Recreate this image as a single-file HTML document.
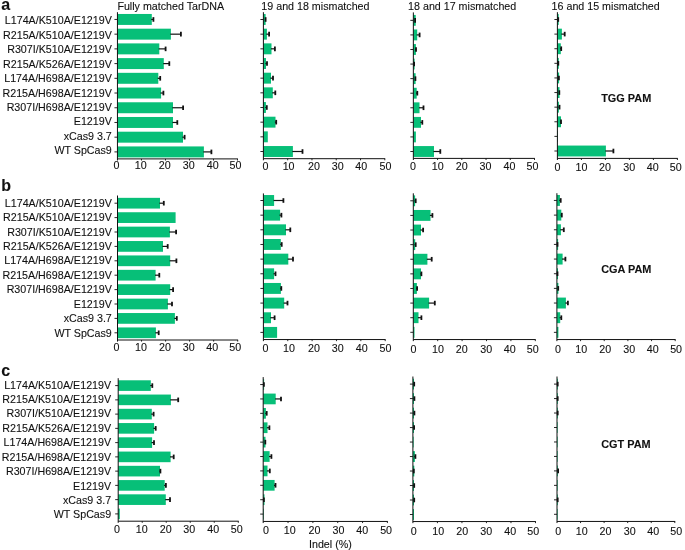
<!DOCTYPE html>
<html><head><meta charset="utf-8"><style>
html,body{margin:0;padding:0;background:#fff;}
svg{display:block;}
text{font-family:"Liberation Sans",Arial,sans-serif;font-size:10.7px;fill:#111;stroke:#111;stroke-width:0.1px;}
</style></head><body>
<svg width="685" height="550" viewBox="0 0 685 550">
<rect x="117.45" y="13.97" width="34.35" height="10.96" fill="#07bf78"/>
<rect x="117.45" y="28.68" width="53.45" height="10.96" fill="#07bf78"/>
<rect x="117.45" y="43.4" width="41.85" height="10.96" fill="#07bf78"/>
<rect x="117.45" y="58.12" width="46.35" height="10.96" fill="#07bf78"/>
<rect x="117.45" y="72.83" width="40.85" height="10.96" fill="#07bf78"/>
<rect x="117.45" y="87.55" width="43.65" height="10.96" fill="#07bf78"/>
<rect x="117.45" y="102.27" width="55.55" height="10.96" fill="#07bf78"/>
<rect x="117.45" y="116.98" width="55.55" height="10.96" fill="#07bf78"/>
<rect x="117.45" y="131.7" width="65.55" height="10.96" fill="#07bf78"/>
<rect x="117.45" y="146.42" width="86.45" height="10.96" fill="#07bf78"/>
<path d="M151.2 19.45H153.6" stroke="#111" stroke-width="1.2"/>
<path d="M153.4 17.15V21.75" stroke="#111" stroke-width="1.8"/>
<path d="M170.3 34.17H181.1" stroke="#111" stroke-width="1.2"/>
<path d="M180.9 31.87V36.47" stroke="#111" stroke-width="1.8"/>
<path d="M158.7 48.88H165.8" stroke="#111" stroke-width="1.2"/>
<path d="M165.6 46.58V51.18" stroke="#111" stroke-width="1.8"/>
<path d="M163.2 63.6H169.5" stroke="#111" stroke-width="1.2"/>
<path d="M169.3 61.3V65.9" stroke="#111" stroke-width="1.8"/>
<path d="M157.7 78.32H160.4" stroke="#111" stroke-width="1.2"/>
<path d="M160.2 76.02V80.62" stroke="#111" stroke-width="1.8"/>
<path d="M160.5 93.03H163.6" stroke="#111" stroke-width="1.2"/>
<path d="M163.4 90.73V95.33" stroke="#111" stroke-width="1.8"/>
<path d="M172.4 107.75H183.3" stroke="#111" stroke-width="1.2"/>
<path d="M183.1 105.45V110.05" stroke="#111" stroke-width="1.8"/>
<path d="M172.4 122.47H177.5" stroke="#111" stroke-width="1.2"/>
<path d="M177.3 120.17V124.77" stroke="#111" stroke-width="1.8"/>
<path d="M182.4 137.18H184.8" stroke="#111" stroke-width="1.2"/>
<path d="M184.6 134.88V139.48" stroke="#111" stroke-width="1.8"/>
<path d="M203.3 151.9H211.6" stroke="#111" stroke-width="1.2"/>
<path d="M211.4 149.6V154.2" stroke="#111" stroke-width="1.8"/>
<path d="M117.45 12.2V160.5M117.45 158.9H237.9" stroke="#111" stroke-width="1" fill="none"/>
<path d="M114.45 19.45H117.45M114.45 34.17H117.45M114.45 48.88H117.45M114.45 63.6H117.45M114.45 78.32H117.45M114.45 93.03H117.45M114.45 107.75H117.45M114.45 122.47H117.45M114.45 137.18H117.45M114.45 151.9H117.45" stroke="#111" stroke-width="0.9"/>
<path d="M141.46 158.9V160.5M165.47 158.9V160.5M189.48 158.9V160.5M213.49 158.9V160.5M237.5 158.9V160.5" stroke="#111" stroke-width="0.9"/>
<text x="116.6" y="169.2" text-anchor="middle">0</text>
<text x="140.7" y="169.2" text-anchor="middle">10</text>
<text x="164.8" y="169.2" text-anchor="middle">20</text>
<text x="188.7" y="169.2" text-anchor="middle">30</text>
<text x="212.8" y="169.2" text-anchor="middle">40</text>
<text x="235.4" y="169.2" text-anchor="middle">50</text>
<text x="111.8" y="24.4" text-anchor="end">L174A/K510A/E1219V</text>
<text x="111.8" y="38.84" text-anchor="end">R215A/K510A/E1219V</text>
<text x="111.8" y="53.28" text-anchor="end">R307I/K510A/E1219V</text>
<text x="111.8" y="67.72" text-anchor="end">R215A/K526A/E1219V</text>
<text x="111.8" y="82.16" text-anchor="end">L174A/H698A/E1219V</text>
<text x="111.8" y="96.6" text-anchor="end">R215A/H698A/E1219V</text>
<text x="111.8" y="111.04" text-anchor="end">R307I/H698A/E1219V</text>
<text x="111.8" y="125.48" text-anchor="end">E1219V</text>
<text x="111.8" y="139.92" text-anchor="end">xCas9 3.7</text>
<text x="111.8" y="154.36" text-anchor="end">WT SpCas9</text>
<rect x="263.4" y="14.04" width="2.2" height="10.93" fill="#07bf78"/>
<rect x="263.4" y="28.7" width="3.5" height="10.93" fill="#07bf78"/>
<rect x="263.4" y="43.37" width="8.1" height="10.93" fill="#07bf78"/>
<rect x="263.4" y="58.04" width="2.6" height="10.93" fill="#07bf78"/>
<rect x="263.4" y="72.7" width="7.6" height="10.93" fill="#07bf78"/>
<rect x="263.4" y="87.37" width="9.4" height="10.93" fill="#07bf78"/>
<rect x="263.4" y="102.04" width="2.5" height="10.93" fill="#07bf78"/>
<rect x="263.4" y="116.7" width="12.1" height="10.93" fill="#07bf78"/>
<rect x="263.4" y="131.37" width="4.4" height="10.93" fill="#07bf78"/>
<rect x="263.4" y="146.04" width="29.5" height="10.93" fill="#07bf78"/>
<path d="M265 19.5H265.8" stroke="#111" stroke-width="1.2"/>
<path d="M265.6 17.2V21.8" stroke="#111" stroke-width="1.8"/>
<path d="M266.3 34.17H269.3" stroke="#111" stroke-width="1.2"/>
<path d="M269.1 31.87V36.47" stroke="#111" stroke-width="1.8"/>
<path d="M270.9 48.83H275.1" stroke="#111" stroke-width="1.2"/>
<path d="M274.9 46.53V51.13" stroke="#111" stroke-width="1.8"/>
<path d="M265.4 63.5H267.2" stroke="#111" stroke-width="1.2"/>
<path d="M267 61.2V65.8" stroke="#111" stroke-width="1.8"/>
<path d="M270.4 78.17H273.2" stroke="#111" stroke-width="1.2"/>
<path d="M273 75.87V80.47" stroke="#111" stroke-width="1.8"/>
<path d="M272.2 92.83H275.5" stroke="#111" stroke-width="1.2"/>
<path d="M275.3 90.53V95.13" stroke="#111" stroke-width="1.8"/>
<path d="M265.3 107.5H267" stroke="#111" stroke-width="1.2"/>
<path d="M266.8 105.2V109.8" stroke="#111" stroke-width="1.8"/>
<path d="M274.9 122.17H276.4" stroke="#111" stroke-width="1.2"/>
<path d="M276.2 119.87V124.47" stroke="#111" stroke-width="1.8"/>
<path d="M292.3 151.5H302.7" stroke="#111" stroke-width="1.2"/>
<path d="M302.5 149.2V153.8" stroke="#111" stroke-width="1.8"/>
<path d="M263.4 12.2V160.3M263.4 158.7H385.2" stroke="#111" stroke-width="1" fill="none"/>
<path d="M260.4 19.5H263.4M260.4 34.17H263.4M260.4 48.83H263.4M260.4 63.5H263.4M260.4 78.17H263.4M260.4 92.83H263.4M260.4 107.5H263.4M260.4 122.17H263.4M260.4 136.83H263.4M260.4 151.5H263.4" stroke="#111" stroke-width="0.9"/>
<path d="M287.68 158.7V160.3M311.96 158.7V160.3M336.24 158.7V160.3M360.52 158.7V160.3M384.8 158.7V160.3" stroke="#111" stroke-width="0.9"/>
<text x="265.5" y="170.3" text-anchor="middle">0</text>
<text x="288.6" y="170.3" text-anchor="middle">10</text>
<text x="313.9" y="170.3" text-anchor="middle">20</text>
<text x="337.8" y="170.3" text-anchor="middle">30</text>
<text x="361.2" y="170.3" text-anchor="middle">40</text>
<text x="385.5" y="170.3" text-anchor="middle">50</text>
<rect x="413.35" y="14.92" width="2.35" height="10.86" fill="#07bf78"/>
<rect x="413.35" y="29.49" width="3.85" height="10.86" fill="#07bf78"/>
<rect x="413.35" y="44.07" width="2.55" height="10.86" fill="#07bf78"/>
<rect x="413.35" y="58.64" width="1.25" height="10.86" fill="#07bf78"/>
<rect x="413.35" y="73.21" width="2.25" height="10.86" fill="#07bf78"/>
<rect x="413.35" y="87.78" width="3.35" height="10.86" fill="#07bf78"/>
<rect x="413.35" y="102.36" width="6.15" height="10.86" fill="#07bf78"/>
<rect x="413.35" y="116.93" width="7.65" height="10.86" fill="#07bf78"/>
<rect x="413.35" y="131.5" width="2.55" height="10.86" fill="#07bf78"/>
<rect x="413.35" y="146.07" width="20.65" height="10.86" fill="#07bf78"/>
<path d="M415.1 18.05V22.65" stroke="#111" stroke-width="1.8"/>
<path d="M416.6 34.92H419.8" stroke="#111" stroke-width="1.2"/>
<path d="M419.6 32.62V37.22" stroke="#111" stroke-width="1.8"/>
<path d="M415.3 49.49H416.2" stroke="#111" stroke-width="1.2"/>
<path d="M416 47.19V51.79" stroke="#111" stroke-width="1.8"/>
<path d="M414.1 61.77V66.37" stroke="#111" stroke-width="1.8"/>
<path d="M415.4 76.34V80.94" stroke="#111" stroke-width="1.8"/>
<path d="M416.1 93.21H417.5" stroke="#111" stroke-width="1.2"/>
<path d="M417.3 90.91V95.51" stroke="#111" stroke-width="1.8"/>
<path d="M418.9 107.78H423.7" stroke="#111" stroke-width="1.2"/>
<path d="M423.5 105.48V110.08" stroke="#111" stroke-width="1.8"/>
<path d="M420.4 122.36H422.5" stroke="#111" stroke-width="1.2"/>
<path d="M422.3 120.06V124.66" stroke="#111" stroke-width="1.8"/>
<path d="M433.4 151.5H440.5" stroke="#111" stroke-width="1.2"/>
<path d="M440.3 149.2V153.8" stroke="#111" stroke-width="1.8"/>
<path d="M413.35 12.4V160M413.35 158.4H534.9" stroke="#111" stroke-width="1" fill="none"/>
<path d="M410.35 20.35H413.35M410.35 34.92H413.35M410.35 49.49H413.35M410.35 64.07H413.35M410.35 78.64H413.35M410.35 93.21H413.35M410.35 107.78H413.35M410.35 122.36H413.35M410.35 136.93H413.35M410.35 151.5H413.35" stroke="#111" stroke-width="0.9"/>
<path d="M437.58 158.4V160M461.81 158.4V160M486.04 158.4V160M510.27 158.4V160M534.5 158.4V160" stroke="#111" stroke-width="0.9"/>
<text x="412.9" y="170" text-anchor="middle">0</text>
<text x="437.7" y="170" text-anchor="middle">10</text>
<text x="461.7" y="170" text-anchor="middle">20</text>
<text x="485.5" y="170" text-anchor="middle">30</text>
<text x="509.5" y="170" text-anchor="middle">40</text>
<text x="532.5" y="170" text-anchor="middle">50</text>
<rect x="557.4" y="14.06" width="1.3" height="10.89" fill="#07bf78"/>
<rect x="557.4" y="28.67" width="4.5" height="10.89" fill="#07bf78"/>
<rect x="557.4" y="43.28" width="3.4" height="10.89" fill="#07bf78"/>
<rect x="557.4" y="57.89" width="1.4" height="10.89" fill="#07bf78"/>
<rect x="557.4" y="72.5" width="1.7" height="10.89" fill="#07bf78"/>
<rect x="557.4" y="87.11" width="2.1" height="10.89" fill="#07bf78"/>
<rect x="557.4" y="101.72" width="1.5" height="10.89" fill="#07bf78"/>
<rect x="557.4" y="116.34" width="3.6" height="10.89" fill="#07bf78"/>
<rect x="557.4" y="130.95" width="0.6" height="10.89" fill="#07bf78"/>
<rect x="557.4" y="145.56" width="48.5" height="10.89" fill="#07bf78"/>
<path d="M558.2 17.2V21.8" stroke="#111" stroke-width="1.8"/>
<path d="M561.3 34.11H564.9" stroke="#111" stroke-width="1.2"/>
<path d="M564.7 31.81V36.41" stroke="#111" stroke-width="1.8"/>
<path d="M560.2 48.72H561.4" stroke="#111" stroke-width="1.2"/>
<path d="M561.2 46.42V51.02" stroke="#111" stroke-width="1.8"/>
<path d="M558.3 61.03V65.63" stroke="#111" stroke-width="1.8"/>
<path d="M558.9 75.64V80.24" stroke="#111" stroke-width="1.8"/>
<path d="M559.3 90.26V94.86" stroke="#111" stroke-width="1.8"/>
<path d="M558.3 107.17H559.7" stroke="#111" stroke-width="1.2"/>
<path d="M559.5 104.87V109.47" stroke="#111" stroke-width="1.8"/>
<path d="M560.4 121.78H561.2" stroke="#111" stroke-width="1.2"/>
<path d="M561 119.48V124.08" stroke="#111" stroke-width="1.8"/>
<path d="M605.3 151H613.6" stroke="#111" stroke-width="1.2"/>
<path d="M613.4 148.7V153.3" stroke="#111" stroke-width="1.8"/>
<path d="M557.4 12.2V160M557.4 158.4H677.8" stroke="#111" stroke-width="1" fill="none"/>
<path d="M554.4 19.5H557.4M554.4 34.11H557.4M554.4 48.72H557.4M554.4 63.33H557.4M554.4 77.94H557.4M554.4 92.56H557.4M554.4 107.17H557.4M554.4 121.78H557.4M554.4 136.39H557.4M554.4 151H557.4" stroke="#111" stroke-width="0.9"/>
<path d="M581.4 158.4V160M605.4 158.4V160M629.4 158.4V160M653.4 158.4V160M677.4 158.4V160" stroke="#111" stroke-width="0.9"/>
<text x="557.6" y="171" text-anchor="middle">0</text>
<text x="581.4" y="171" text-anchor="middle">10</text>
<text x="605" y="171" text-anchor="middle">20</text>
<text x="629.3" y="171" text-anchor="middle">30</text>
<text x="652.8" y="171" text-anchor="middle">40</text>
<text x="675.8" y="171" text-anchor="middle">50</text>
<text x="601.2" y="101.9" font-weight="bold" style="font-size:10.9px">TGG PAM</text>
<text x="1.2" y="9.9" font-weight="bold" style="font-size:16px">a</text>
<rect x="117.5" y="197.84" width="42.5" height="10.73" fill="#07bf78"/>
<rect x="117.5" y="212.24" width="58.1" height="10.73" fill="#07bf78"/>
<rect x="117.5" y="226.64" width="52.4" height="10.73" fill="#07bf78"/>
<rect x="117.5" y="241.04" width="45.5" height="10.73" fill="#07bf78"/>
<rect x="117.5" y="255.44" width="52.7" height="10.73" fill="#07bf78"/>
<rect x="117.5" y="269.84" width="38.1" height="10.73" fill="#07bf78"/>
<rect x="117.5" y="284.24" width="52.7" height="10.73" fill="#07bf78"/>
<rect x="117.5" y="298.64" width="50.4" height="10.73" fill="#07bf78"/>
<rect x="117.5" y="313.04" width="57.4" height="10.73" fill="#07bf78"/>
<rect x="117.5" y="327.44" width="38.4" height="10.73" fill="#07bf78"/>
<path d="M159.4 203.2H164" stroke="#111" stroke-width="1.2"/>
<path d="M163.8 200.9V205.5" stroke="#111" stroke-width="1.8"/>
<path d="M169.3 232H176.3" stroke="#111" stroke-width="1.2"/>
<path d="M176.1 229.7V234.3" stroke="#111" stroke-width="1.8"/>
<path d="M162.4 246.4H167.9" stroke="#111" stroke-width="1.2"/>
<path d="M167.7 244.1V248.7" stroke="#111" stroke-width="1.8"/>
<path d="M169.6 260.8H176.6" stroke="#111" stroke-width="1.2"/>
<path d="M176.4 258.5V263.1" stroke="#111" stroke-width="1.8"/>
<path d="M155 275.2H159.5" stroke="#111" stroke-width="1.2"/>
<path d="M159.3 272.9V277.5" stroke="#111" stroke-width="1.8"/>
<path d="M169.6 289.6H173.3" stroke="#111" stroke-width="1.2"/>
<path d="M173.1 287.3V291.9" stroke="#111" stroke-width="1.8"/>
<path d="M167.3 304H172.2" stroke="#111" stroke-width="1.2"/>
<path d="M172 301.7V306.3" stroke="#111" stroke-width="1.8"/>
<path d="M174.3 318.4H177" stroke="#111" stroke-width="1.2"/>
<path d="M176.8 316.1V320.7" stroke="#111" stroke-width="1.8"/>
<path d="M155.3 332.8H158.9" stroke="#111" stroke-width="1.2"/>
<path d="M158.7 330.5V335.1" stroke="#111" stroke-width="1.8"/>
<path d="M117.5 195.5V341.6M117.5 340H238.1" stroke="#111" stroke-width="1" fill="none"/>
<path d="M114.5 203.2H117.5M114.5 217.6H117.5M114.5 232H117.5M114.5 246.4H117.5M114.5 260.8H117.5M114.5 275.2H117.5M114.5 289.6H117.5M114.5 304H117.5M114.5 318.4H117.5M114.5 332.8H117.5" stroke="#111" stroke-width="0.9"/>
<path d="M141.54 340V341.6M165.58 340V341.6M189.62 340V341.6M213.66 340V341.6M237.7 340V341.6" stroke="#111" stroke-width="0.9"/>
<text x="116.4" y="351.1" text-anchor="middle">0</text>
<text x="141" y="351.1" text-anchor="middle">10</text>
<text x="165" y="351.1" text-anchor="middle">20</text>
<text x="188.7" y="351.1" text-anchor="middle">30</text>
<text x="212.2" y="351.1" text-anchor="middle">40</text>
<text x="235.2" y="351.1" text-anchor="middle">50</text>
<text x="111.8" y="206.7" text-anchor="end">L174A/K510A/E1219V</text>
<text x="111.8" y="221.14" text-anchor="end">R215A/K510A/E1219V</text>
<text x="111.8" y="235.58" text-anchor="end">R307I/K510A/E1219V</text>
<text x="111.8" y="250.02" text-anchor="end">R215A/K526A/E1219V</text>
<text x="111.8" y="264.46" text-anchor="end">L174A/H698A/E1219V</text>
<text x="111.8" y="278.9" text-anchor="end">R215A/H698A/E1219V</text>
<text x="111.8" y="293.34" text-anchor="end">R307I/H698A/E1219V</text>
<text x="111.8" y="307.78" text-anchor="end">E1219V</text>
<text x="111.8" y="322.22" text-anchor="end">xCas9 3.7</text>
<text x="111.8" y="336.66" text-anchor="end">WT SpCas9</text>
<rect x="263.4" y="195.04" width="10.7" height="10.92" fill="#07bf78"/>
<rect x="263.4" y="209.7" width="16.7" height="10.92" fill="#07bf78"/>
<rect x="263.4" y="224.35" width="22.6" height="10.92" fill="#07bf78"/>
<rect x="263.4" y="239.01" width="17.4" height="10.92" fill="#07bf78"/>
<rect x="263.4" y="253.66" width="24.9" height="10.92" fill="#07bf78"/>
<rect x="263.4" y="268.32" width="10.7" height="10.92" fill="#07bf78"/>
<rect x="263.4" y="282.97" width="17.5" height="10.92" fill="#07bf78"/>
<rect x="263.4" y="297.63" width="20.8" height="10.92" fill="#07bf78"/>
<rect x="263.4" y="312.29" width="7.6" height="10.92" fill="#07bf78"/>
<rect x="263.4" y="326.94" width="13.7" height="10.92" fill="#07bf78"/>
<path d="M273.5 200.5H283.6" stroke="#111" stroke-width="1.2"/>
<path d="M283.4 198.2V202.8" stroke="#111" stroke-width="1.8"/>
<path d="M279.5 215.16H281.6" stroke="#111" stroke-width="1.2"/>
<path d="M281.4 212.86V217.46" stroke="#111" stroke-width="1.8"/>
<path d="M285.4 229.81H290.5" stroke="#111" stroke-width="1.2"/>
<path d="M290.3 227.51V232.11" stroke="#111" stroke-width="1.8"/>
<path d="M280.2 244.47H281.9" stroke="#111" stroke-width="1.2"/>
<path d="M281.7 242.17V246.77" stroke="#111" stroke-width="1.8"/>
<path d="M287.7 259.12H293.2" stroke="#111" stroke-width="1.2"/>
<path d="M293 256.82V261.42" stroke="#111" stroke-width="1.8"/>
<path d="M273.5 273.78H275.7" stroke="#111" stroke-width="1.2"/>
<path d="M275.5 271.48V276.08" stroke="#111" stroke-width="1.8"/>
<path d="M280.3 288.43H281.5" stroke="#111" stroke-width="1.2"/>
<path d="M281.3 286.13V290.73" stroke="#111" stroke-width="1.8"/>
<path d="M283.6 303.09H287.7" stroke="#111" stroke-width="1.2"/>
<path d="M287.5 300.79V305.39" stroke="#111" stroke-width="1.8"/>
<path d="M270.4 317.74H274.8" stroke="#111" stroke-width="1.2"/>
<path d="M274.6 315.44V320.04" stroke="#111" stroke-width="1.8"/>
<path d="M263.4 193.4V341.15M263.4 339.55H385.6" stroke="#111" stroke-width="1" fill="none"/>
<path d="M260.4 200.5H263.4M260.4 215.16H263.4M260.4 229.81H263.4M260.4 244.47H263.4M260.4 259.12H263.4M260.4 273.78H263.4M260.4 288.43H263.4M260.4 303.09H263.4M260.4 317.74H263.4M260.4 332.4H263.4" stroke="#111" stroke-width="0.9"/>
<path d="M287.76 339.55V341.15M312.12 339.55V341.15M336.48 339.55V341.15M360.84 339.55V341.15M385.2 339.55V341.15" stroke="#111" stroke-width="0.9"/>
<text x="265.5" y="352.3" text-anchor="middle">0</text>
<text x="289" y="352.3" text-anchor="middle">10</text>
<text x="314" y="352.3" text-anchor="middle">20</text>
<text x="337.8" y="352.3" text-anchor="middle">30</text>
<text x="361.8" y="352.3" text-anchor="middle">40</text>
<text x="385.5" y="352.3" text-anchor="middle">50</text>
<rect x="413.3" y="195.36" width="1.8" height="10.89" fill="#07bf78"/>
<rect x="413.3" y="209.97" width="17.2" height="10.89" fill="#07bf78"/>
<rect x="413.3" y="224.58" width="7.7" height="10.89" fill="#07bf78"/>
<rect x="413.3" y="239.19" width="1.9" height="10.89" fill="#07bf78"/>
<rect x="413.3" y="253.8" width="14.1" height="10.89" fill="#07bf78"/>
<rect x="413.3" y="268.41" width="7.7" height="10.89" fill="#07bf78"/>
<rect x="413.3" y="283.02" width="3.6" height="10.89" fill="#07bf78"/>
<rect x="413.3" y="297.64" width="15.8" height="10.89" fill="#07bf78"/>
<rect x="413.3" y="312.25" width="5.2" height="10.89" fill="#07bf78"/>
<rect x="413.3" y="326.86" width="1.2" height="10.89" fill="#07bf78"/>
<path d="M414.5 200.8H415.9" stroke="#111" stroke-width="1.2"/>
<path d="M415.7 198.5V203.1" stroke="#111" stroke-width="1.8"/>
<path d="M429.9 215.41H432.6" stroke="#111" stroke-width="1.2"/>
<path d="M432.4 213.11V217.71" stroke="#111" stroke-width="1.8"/>
<path d="M420.4 230.02H423.3" stroke="#111" stroke-width="1.2"/>
<path d="M423.1 227.72V232.32" stroke="#111" stroke-width="1.8"/>
<path d="M414.6 244.63H415.9" stroke="#111" stroke-width="1.2"/>
<path d="M415.7 242.33V246.93" stroke="#111" stroke-width="1.8"/>
<path d="M426.8 259.24H431.9" stroke="#111" stroke-width="1.2"/>
<path d="M431.7 256.94V261.54" stroke="#111" stroke-width="1.8"/>
<path d="M420.4 273.86H421.6" stroke="#111" stroke-width="1.2"/>
<path d="M421.4 271.56V276.16" stroke="#111" stroke-width="1.8"/>
<path d="M416.3 288.47H417.3" stroke="#111" stroke-width="1.2"/>
<path d="M417.1 286.17V290.77" stroke="#111" stroke-width="1.8"/>
<path d="M428.5 303.08H435" stroke="#111" stroke-width="1.2"/>
<path d="M434.8 300.78V305.38" stroke="#111" stroke-width="1.8"/>
<path d="M417.9 317.69H421.6" stroke="#111" stroke-width="1.2"/>
<path d="M421.4 315.39V319.99" stroke="#111" stroke-width="1.8"/>
<path d="M413.3 193.3V341.15M413.3 339.55H535.7" stroke="#111" stroke-width="1" fill="none"/>
<path d="M410.3 200.8H413.3M410.3 215.41H413.3M410.3 230.02H413.3M410.3 244.63H413.3M410.3 259.24H413.3M410.3 273.86H413.3M410.3 288.47H413.3M410.3 303.08H413.3M410.3 317.69H413.3M410.3 332.3H413.3" stroke="#111" stroke-width="0.9"/>
<path d="M437.7 339.55V341.15M462.1 339.55V341.15M486.5 339.55V341.15M510.9 339.55V341.15M535.3 339.55V341.15" stroke="#111" stroke-width="0.9"/>
<text x="413.5" y="352.9" text-anchor="middle">0</text>
<text x="438" y="352.9" text-anchor="middle">10</text>
<text x="461.7" y="352.9" text-anchor="middle">20</text>
<text x="486.2" y="352.9" text-anchor="middle">30</text>
<text x="509.7" y="352.9" text-anchor="middle">40</text>
<text x="532.7" y="352.9" text-anchor="middle">50</text>
<rect x="556.9" y="194.99" width="3" height="10.92" fill="#07bf78"/>
<rect x="556.9" y="209.65" width="4.4" height="10.92" fill="#07bf78"/>
<rect x="556.9" y="224.3" width="4" height="10.92" fill="#07bf78"/>
<rect x="556.9" y="238.96" width="1.2" height="10.92" fill="#07bf78"/>
<rect x="556.9" y="253.61" width="5.7" height="10.92" fill="#07bf78"/>
<rect x="556.9" y="268.27" width="1.1" height="10.92" fill="#07bf78"/>
<rect x="556.9" y="282.92" width="1.5" height="10.92" fill="#07bf78"/>
<rect x="556.9" y="297.58" width="9" height="10.92" fill="#07bf78"/>
<rect x="556.9" y="312.24" width="3.3" height="10.92" fill="#07bf78"/>
<rect x="556.9" y="326.89" width="1.5" height="10.92" fill="#07bf78"/>
<path d="M559.3 200.45H560.9" stroke="#111" stroke-width="1.2"/>
<path d="M560.7 198.15V202.75" stroke="#111" stroke-width="1.8"/>
<path d="M560.7 215.11H562" stroke="#111" stroke-width="1.2"/>
<path d="M561.8 212.81V217.41" stroke="#111" stroke-width="1.8"/>
<path d="M560.3 229.76H564" stroke="#111" stroke-width="1.2"/>
<path d="M563.8 227.46V232.06" stroke="#111" stroke-width="1.8"/>
<path d="M557.5 242.12V246.72" stroke="#111" stroke-width="1.8"/>
<path d="M562 259.07H565.6" stroke="#111" stroke-width="1.2"/>
<path d="M565.4 256.77V261.37" stroke="#111" stroke-width="1.8"/>
<path d="M557.5 271.43V276.03" stroke="#111" stroke-width="1.8"/>
<path d="M558.2 286.08V290.68" stroke="#111" stroke-width="1.8"/>
<path d="M565.3 303.04H568.1" stroke="#111" stroke-width="1.2"/>
<path d="M567.9 300.74V305.34" stroke="#111" stroke-width="1.8"/>
<path d="M559.6 317.69H561.5" stroke="#111" stroke-width="1.2"/>
<path d="M561.3 315.39V319.99" stroke="#111" stroke-width="1.8"/>
<path d="M556.9 193.2V341.15M556.9 339.55H675.6" stroke="#111" stroke-width="1" fill="none"/>
<path d="M553.9 200.45H556.9M553.9 215.11H556.9M553.9 229.76H556.9M553.9 244.42H556.9M553.9 259.07H556.9M553.9 273.73H556.9M553.9 288.38H556.9M553.9 303.04H556.9M553.9 317.69H556.9M553.9 332.35H556.9" stroke="#111" stroke-width="0.9"/>
<path d="M580.56 339.55V341.15M604.22 339.55V341.15M627.88 339.55V341.15M651.54 339.55V341.15M675.2 339.55V341.15" stroke="#111" stroke-width="0.9"/>
<text x="558" y="353.3" text-anchor="middle">0</text>
<text x="581.3" y="353.3" text-anchor="middle">10</text>
<text x="605.3" y="353.3" text-anchor="middle">20</text>
<text x="629.3" y="353.3" text-anchor="middle">30</text>
<text x="652.8" y="353.3" text-anchor="middle">40</text>
<text x="676.1" y="353.3" text-anchor="middle">50</text>
<text x="601.2" y="272.6" font-weight="bold" style="font-size:10.9px">CGA PAM</text>
<text x="1.2" y="190.6" font-weight="bold" style="font-size:16px">b</text>
<rect x="118.2" y="380.29" width="32.6" height="10.62" fill="#07bf78"/>
<rect x="118.2" y="394.55" width="52.7" height="10.62" fill="#07bf78"/>
<rect x="118.2" y="408.8" width="33.6" height="10.62" fill="#07bf78"/>
<rect x="118.2" y="423.06" width="35.9" height="10.62" fill="#07bf78"/>
<rect x="118.2" y="437.31" width="33.9" height="10.62" fill="#07bf78"/>
<rect x="118.2" y="451.57" width="52.4" height="10.62" fill="#07bf78"/>
<rect x="118.2" y="465.82" width="41.8" height="10.62" fill="#07bf78"/>
<rect x="118.2" y="480.08" width="46.5" height="10.62" fill="#07bf78"/>
<rect x="118.2" y="494.33" width="47.6" height="10.62" fill="#07bf78"/>
<rect x="118.2" y="508.59" width="1.6" height="10.62" fill="#07bf78"/>
<path d="M150.2 385.6H152.5" stroke="#111" stroke-width="1.2"/>
<path d="M152.3 383.3V387.9" stroke="#111" stroke-width="1.8"/>
<path d="M170.3 399.86H178.4" stroke="#111" stroke-width="1.2"/>
<path d="M178.2 397.56V402.16" stroke="#111" stroke-width="1.8"/>
<path d="M151.2 414.11H153.8" stroke="#111" stroke-width="1.2"/>
<path d="M153.6 411.81V416.41" stroke="#111" stroke-width="1.8"/>
<path d="M153.5 428.37H155.9" stroke="#111" stroke-width="1.2"/>
<path d="M155.7 426.07V430.67" stroke="#111" stroke-width="1.8"/>
<path d="M151.5 442.62H154.2" stroke="#111" stroke-width="1.2"/>
<path d="M154 440.32V444.92" stroke="#111" stroke-width="1.8"/>
<path d="M170 456.88H173.9" stroke="#111" stroke-width="1.2"/>
<path d="M173.7 454.58V459.18" stroke="#111" stroke-width="1.8"/>
<path d="M159.4 471.13H160.6" stroke="#111" stroke-width="1.2"/>
<path d="M160.4 468.83V473.43" stroke="#111" stroke-width="1.8"/>
<path d="M164.1 485.39H166.1" stroke="#111" stroke-width="1.2"/>
<path d="M165.9 483.09V487.69" stroke="#111" stroke-width="1.8"/>
<path d="M165.2 499.64H170.2" stroke="#111" stroke-width="1.2"/>
<path d="M170 497.34V501.94" stroke="#111" stroke-width="1.8"/>
<path d="M118.2 378.2V522.8M118.2 521.2H238.7" stroke="#111" stroke-width="1" fill="none"/>
<path d="M115.2 385.6H118.2M115.2 399.86H118.2M115.2 414.11H118.2M115.2 428.37H118.2M115.2 442.62H118.2M115.2 456.88H118.2M115.2 471.13H118.2M115.2 485.39H118.2M115.2 499.64H118.2M115.2 513.9H118.2" stroke="#111" stroke-width="0.9"/>
<path d="M142.22 521.2V522.8M166.24 521.2V522.8M190.26 521.2V522.8M214.28 521.2V522.8M238.3 521.2V522.8" stroke="#111" stroke-width="0.9"/>
<text x="117.1" y="532.9" text-anchor="middle">0</text>
<text x="141.7" y="532.9" text-anchor="middle">10</text>
<text x="165.7" y="532.9" text-anchor="middle">20</text>
<text x="189.2" y="532.9" text-anchor="middle">30</text>
<text x="213.2" y="532.9" text-anchor="middle">40</text>
<text x="236.7" y="532.9" text-anchor="middle">50</text>
<text x="111.1" y="388.5" text-anchor="end">L174A/K510A/E1219V</text>
<text x="111.1" y="402.94" text-anchor="end">R215A/K510A/E1219V</text>
<text x="111.1" y="417.38" text-anchor="end">R307I/K510A/E1219V</text>
<text x="111.1" y="431.82" text-anchor="end">R215A/K526A/E1219V</text>
<text x="111.1" y="446.26" text-anchor="end">L174A/H698A/E1219V</text>
<text x="111.1" y="460.7" text-anchor="end">R215A/H698A/E1219V</text>
<text x="111.1" y="475.14" text-anchor="end">R307I/H698A/E1219V</text>
<text x="111.1" y="489.58" text-anchor="end">E1219V</text>
<text x="111.1" y="504.02" text-anchor="end">xCas9 3.7</text>
<text x="111.1" y="518.46" text-anchor="end">WT SpCas9</text>
<rect x="263.2" y="379.19" width="0.9" height="10.72" fill="#07bf78"/>
<rect x="263.2" y="393.58" width="12.5" height="10.72" fill="#07bf78"/>
<rect x="263.2" y="407.98" width="2.7" height="10.72" fill="#07bf78"/>
<rect x="263.2" y="422.37" width="4.3" height="10.72" fill="#07bf78"/>
<rect x="263.2" y="436.77" width="2.3" height="10.72" fill="#07bf78"/>
<rect x="263.2" y="451.16" width="6.4" height="10.72" fill="#07bf78"/>
<rect x="263.2" y="465.55" width="4.3" height="10.72" fill="#07bf78"/>
<rect x="263.2" y="479.95" width="11.4" height="10.72" fill="#07bf78"/>
<rect x="263.2" y="494.34" width="1.3" height="10.72" fill="#07bf78"/>
<rect x="263.2" y="508.74" width="0.6" height="10.72" fill="#07bf78"/>
<path d="M263.9 382.25V386.85" stroke="#111" stroke-width="1.8"/>
<path d="M275.1 398.94H281.2" stroke="#111" stroke-width="1.2"/>
<path d="M281 396.64V401.24" stroke="#111" stroke-width="1.8"/>
<path d="M265.3 413.34H266.9" stroke="#111" stroke-width="1.2"/>
<path d="M266.7 411.04V415.64" stroke="#111" stroke-width="1.8"/>
<path d="M266.9 427.73H269.6" stroke="#111" stroke-width="1.2"/>
<path d="M269.4 425.43V430.03" stroke="#111" stroke-width="1.8"/>
<path d="M265.3 439.83V444.43" stroke="#111" stroke-width="1.8"/>
<path d="M269 456.52H271.6" stroke="#111" stroke-width="1.2"/>
<path d="M271.4 454.22V458.82" stroke="#111" stroke-width="1.8"/>
<path d="M266.9 470.92H270" stroke="#111" stroke-width="1.2"/>
<path d="M269.8 468.62V473.22" stroke="#111" stroke-width="1.8"/>
<path d="M274 485.31H275.7" stroke="#111" stroke-width="1.2"/>
<path d="M275.5 483.01V487.61" stroke="#111" stroke-width="1.8"/>
<path d="M263.9 497.41V502.01" stroke="#111" stroke-width="1.8"/>
<path d="M263.2 377.1V523.05M263.2 521.45H387.8" stroke="#111" stroke-width="1" fill="none"/>
<path d="M260.2 384.55H263.2M260.2 398.94H263.2M260.2 413.34H263.2M260.2 427.73H263.2M260.2 442.13H263.2M260.2 456.52H263.2M260.2 470.92H263.2M260.2 485.31H263.2M260.2 499.71H263.2M260.2 514.1H263.2" stroke="#111" stroke-width="0.9"/>
<path d="M288.04 521.45V523.05M312.88 521.45V523.05M337.72 521.45V523.05M362.56 521.45V523.05M387.4 521.45V523.05" stroke="#111" stroke-width="0.9"/>
<text x="266" y="534.2" text-anchor="middle">0</text>
<text x="289.8" y="534.2" text-anchor="middle">10</text>
<text x="314.5" y="534.2" text-anchor="middle">20</text>
<text x="338.5" y="534.2" text-anchor="middle">30</text>
<text x="362.2" y="534.2" text-anchor="middle">40</text>
<text x="386.1" y="534.2" text-anchor="middle">50</text>
<rect x="412.9" y="378.7" width="1.1" height="10.79" fill="#07bf78"/>
<rect x="412.9" y="393.19" width="1.1" height="10.79" fill="#07bf78"/>
<rect x="412.9" y="407.68" width="1.1" height="10.79" fill="#07bf78"/>
<rect x="412.9" y="422.17" width="1.1" height="10.79" fill="#07bf78"/>
<rect x="412.9" y="436.66" width="0.7" height="10.79" fill="#07bf78"/>
<rect x="412.9" y="451.15" width="2" height="10.79" fill="#07bf78"/>
<rect x="412.9" y="465.64" width="1.4" height="10.79" fill="#07bf78"/>
<rect x="412.9" y="480.13" width="1.1" height="10.79" fill="#07bf78"/>
<rect x="412.9" y="494.61" width="1.1" height="10.79" fill="#07bf78"/>
<rect x="412.9" y="509.1" width="1.1" height="10.79" fill="#07bf78"/>
<path d="M413.4 384.1H414.4" stroke="#111" stroke-width="1.2"/>
<path d="M414.2 381.8V386.4" stroke="#111" stroke-width="1.8"/>
<path d="M413.4 398.59H414.6" stroke="#111" stroke-width="1.2"/>
<path d="M414.4 396.29V400.89" stroke="#111" stroke-width="1.8"/>
<path d="M413.4 413.08H414.6" stroke="#111" stroke-width="1.2"/>
<path d="M414.4 410.78V415.38" stroke="#111" stroke-width="1.8"/>
<path d="M413.4 427.57H414.3" stroke="#111" stroke-width="1.2"/>
<path d="M414.1 425.27V429.87" stroke="#111" stroke-width="1.8"/>
<path d="M414.3 456.54H415.6" stroke="#111" stroke-width="1.2"/>
<path d="M415.4 454.24V458.84" stroke="#111" stroke-width="1.8"/>
<path d="M413.8 468.73V473.33" stroke="#111" stroke-width="1.8"/>
<path d="M413.4 485.52H414.4" stroke="#111" stroke-width="1.2"/>
<path d="M414.2 483.22V487.82" stroke="#111" stroke-width="1.8"/>
<path d="M413.4 500.01H414.4" stroke="#111" stroke-width="1.2"/>
<path d="M414.2 497.71V502.31" stroke="#111" stroke-width="1.8"/>
<path d="M412.9 376.5V523.15M412.9 521.55H535.9" stroke="#111" stroke-width="1" fill="none"/>
<path d="M409.9 384.1H412.9M409.9 398.59H412.9M409.9 413.08H412.9M409.9 427.57H412.9M409.9 442.06H412.9M409.9 456.54H412.9M409.9 471.03H412.9M409.9 485.52H412.9M409.9 500.01H412.9M409.9 514.5H412.9" stroke="#111" stroke-width="0.9"/>
<path d="M437.42 521.55V523.15M461.94 521.55V523.15M486.46 521.55V523.15M510.98 521.55V523.15M535.5 521.55V523.15" stroke="#111" stroke-width="0.9"/>
<text x="413.7" y="535" text-anchor="middle">0</text>
<text x="438.2" y="535" text-anchor="middle">10</text>
<text x="462.2" y="535" text-anchor="middle">20</text>
<text x="486.2" y="535" text-anchor="middle">30</text>
<text x="510.2" y="535" text-anchor="middle">40</text>
<text x="533.2" y="535" text-anchor="middle">50</text>
<rect x="557" y="378.71" width="0.8" height="10.78" fill="#07bf78"/>
<rect x="557" y="393.18" width="0.8" height="10.78" fill="#07bf78"/>
<rect x="557" y="407.64" width="0.8" height="10.78" fill="#07bf78"/>
<rect x="557" y="422.11" width="0.6" height="10.78" fill="#07bf78"/>
<rect x="557" y="436.58" width="0.6" height="10.78" fill="#07bf78"/>
<rect x="557" y="451.04" width="0.6" height="10.78" fill="#07bf78"/>
<rect x="557" y="465.51" width="0.8" height="10.78" fill="#07bf78"/>
<rect x="557" y="479.98" width="0.6" height="10.78" fill="#07bf78"/>
<rect x="557" y="494.44" width="0.8" height="10.78" fill="#07bf78"/>
<rect x="557" y="508.91" width="0.6" height="10.78" fill="#07bf78"/>
<path d="M557.2 384.1H557.9" stroke="#111" stroke-width="1.2"/>
<path d="M557.7 381.8V386.4" stroke="#111" stroke-width="1.8"/>
<path d="M557.2 398.57H557.9" stroke="#111" stroke-width="1.2"/>
<path d="M557.7 396.27V400.87" stroke="#111" stroke-width="1.8"/>
<path d="M557.2 413.03H557.9" stroke="#111" stroke-width="1.2"/>
<path d="M557.7 410.73V415.33" stroke="#111" stroke-width="1.8"/>
<path d="M557.2 470.9H558.3" stroke="#111" stroke-width="1.2"/>
<path d="M558.1 468.6V473.2" stroke="#111" stroke-width="1.8"/>
<path d="M557.2 499.83H557.9" stroke="#111" stroke-width="1.2"/>
<path d="M557.7 497.53V502.13" stroke="#111" stroke-width="1.8"/>
<path d="M557 376.5V523.05M557 521.45H675.2" stroke="#111" stroke-width="1" fill="none"/>
<path d="M554 384.1H557M554 398.57H557M554 413.03H557M554 427.5H557M554 441.97H557M554 456.43H557M554 470.9H557M554 485.37H557M554 499.83H557M554 514.3H557" stroke="#111" stroke-width="0.9"/>
<path d="M580.56 521.45V523.05M604.12 521.45V523.05M627.68 521.45V523.05M651.24 521.45V523.05M674.8 521.45V523.05" stroke="#111" stroke-width="0.9"/>
<text x="558.3" y="535.2" text-anchor="middle">0</text>
<text x="581.8" y="535.2" text-anchor="middle">10</text>
<text x="605.4" y="535.2" text-anchor="middle">20</text>
<text x="629.7" y="535.2" text-anchor="middle">30</text>
<text x="653.3" y="535.2" text-anchor="middle">40</text>
<text x="676.3" y="535.2" text-anchor="middle">50</text>
<text x="601.2" y="448.1" font-weight="bold" style="font-size:10.9px">CGT PAM</text>
<text x="1.2" y="376" font-weight="bold" style="font-size:16px">c</text>
<text x="117.4" y="9.7">Fully matched TarDNA</text>
<text x="261.35" y="9.7">19 and 18 mismatched</text>
<text x="408.1" y="9.7">18 and 17 mismatched</text>
<text x="551.6" y="9.7">16 and 15 mismatched</text>
<text x="330.4" y="547.6" text-anchor="middle">Indel (%)</text>
</svg>
</body></html>
